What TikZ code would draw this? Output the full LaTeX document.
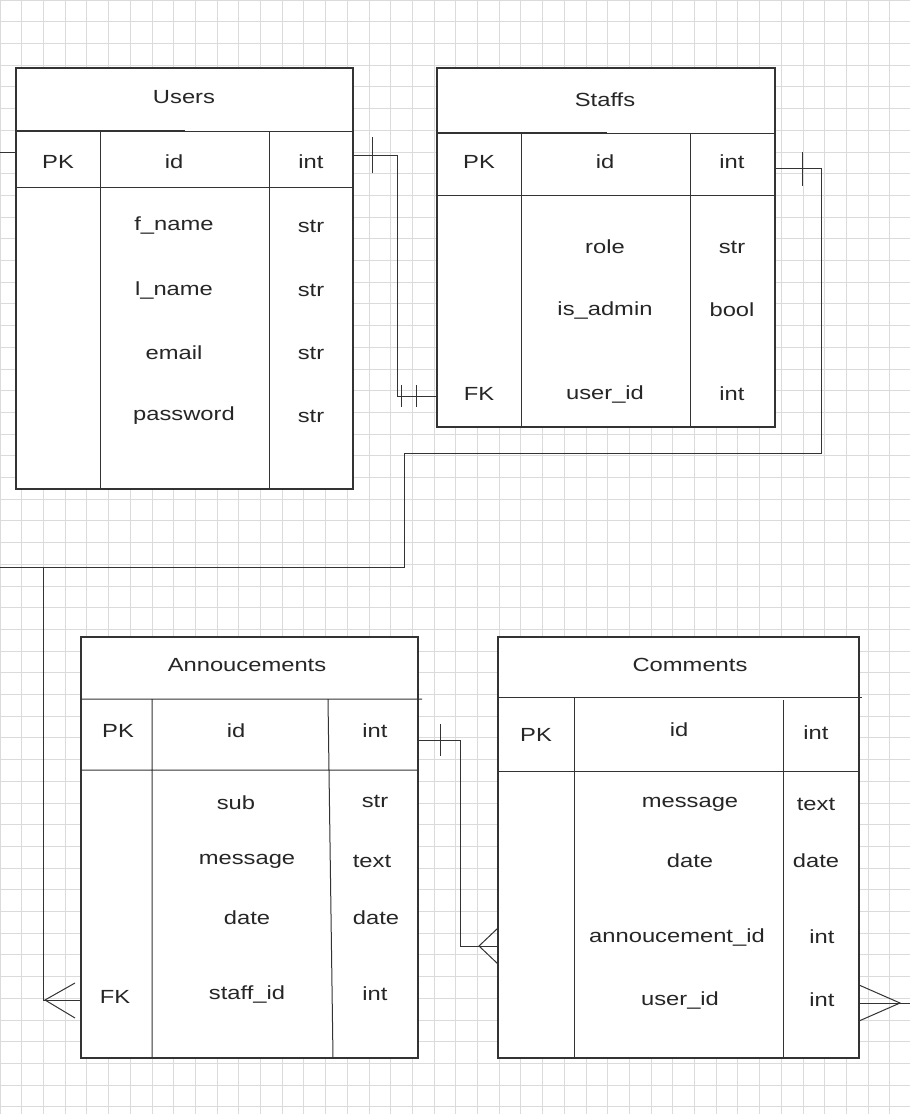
\documentclass[tikz,border=0pt]{standalone}
\usepackage{fontspec}
\setmainfont{Liberation Sans}
\begin{document}
\begin{tikzpicture}[x=1pt,y=-1pt,
  box/.style={draw=black!80,line width=1.3pt},
  sep/.style={draw=black!80,line width=1pt},
  t/.style={font=\fontsize{19}{21}\selectfont,text=black!85,inner sep=0pt,xscale=1.25,transform shape},
  con/.style={draw=black!80,line width=1pt}]
\useasboundingbox (0,0) rectangle (910,1114);
\fill[white] (0,0) rectangle (910,1114);
\foreach \i in {0,...,42} {\draw[black!14,line width=0.8pt] (\i*21.7,0) -- (\i*21.7,1114);}
\foreach \i in {0,...,52} {\draw[black!14,line width=0.8pt] (0,\i*21.7) -- (910,\i*21.7);}
% Users
\draw[box,fill=white] (16,68) rectangle (353,489);
\draw[sep] (16,131) -- (353,131) (16,187) -- (353,187) (100,131) -- (100,489) (269,131) -- (269,489);
\draw[line width=2pt,black!80] (16,131) -- (185,131);
\node[t] (ut) at (184,97) {Users};
\node[t] (u1) at (58,162) {PK}; \node[t] (u2) at (174,162) {id}; \node[t] (u3) at (311,162) {int};
\node[t] (u4) at (174,226) {f\_name}; \node[t] (u5) at (311,226) {str};
\node[t] (u6) at (174,290) {l\_name}; \node[t] (u7) at (311,290) {str};
\node[t] (u8) at (174,353) {email}; \node[t] (u9) at (311,353) {str};
\node[t] (u10) at (184,416) {password}; \node[t] (u11) at (311,416) {str};
% Staffs
\draw[box,fill=white] (437,68) rectangle (775,427);
\draw[sep] (437,133) -- (775,133) (437,195) -- (775,195) (521,133) -- (521,427) (690,133) -- (690,427);
\draw[line width=2pt,black!80] (437,133) -- (607,133);
\node[t] (st) at (605,100) {Staffs};
\node[t] (s1) at (479,162) {PK}; \node[t] (s2) at (605,162) {id}; \node[t] (s3) at (732,162) {int};
\node[t] (s4) at (605,247) {role}; \node[t] (s5) at (732,247) {str};
\node[t] (s6) at (605,310) {is\_admin}; \node[t] (s7) at (732,310) {bool};
\node[t] (s8) at (479,394) {FK}; \node[t] (s9) at (605,394) {user\_id}; \node[t] (s10) at (732,394) {int};
% Annoucements
\draw[box,fill=white] (81,637) rectangle (418,1058);
\draw[sep] (81,699) -- (422,699) (81,770) -- (418,770) (152,699) -- (152,1058) (328,699) -- (333,1058);
\node[t] (at) at (247,665) {Annoucements};
\node[t] (a1) at (118,731) {PK}; \node[t] (a2) at (236,731) {id}; \node[t] (a3) at (375,731) {int};
\node[t] (a4) at (236,803) {sub}; \node[t] (a5) at (375,801) {str};
\node[t] (a6) at (247,861) {message}; \node[t] (a7) at (372,861) {text};
\node[t] (a8) at (247,918) {date}; \node[t] (a9) at (376,918) {date};
\node[t] (a10) at (115,997) {FK}; \node[t] (a11) at (247,994) {staff\_id}; \node[t] (a12) at (375,994) {int};
% Comments
\draw[box,fill=white] (498,637) rectangle (859,1058);
\draw[sep] (498,697) -- (862,697) (498,771) -- (859,771) (574,697) -- (574,1058) (783,700) -- (783,1058);
\node[t] (ct) at (690,665) {Comments};
\node[t] (c1) at (536,735) {PK}; \node[t] (c2) at (679,730) {id}; \node[t] (c3) at (816,733) {int};
\node[t] (c4) at (690,804) {message}; \node[t] (c5) at (816,804) {text};
\node[t] (c6) at (690,861) {date}; \node[t] (c7) at (816,861) {date};
\node[t] (c8) at (677,937) {annoucement\_id}; \node[t] (c9) at (822,937) {int};
\node[t] (c10) at (680,1000) {user\_id}; \node[t] (c11) at (822,1000) {int};
% connectors
\coordinate (ul) at (0,152); \coordinate (ule) at (16,152);
\draw[con] (ul) -- (ule);
\coordinate (uid) at (353,155); \coordinate (sfk) at (437,396);
\draw[con] (uid) -- (397,155) -- (397,396) -- (sfk);
\draw[con] (372,137) -- (372,173) (401,385) -- (401,407) (416,385) -- (416,407);
\coordinate (sid) at (775,168); \coordinate (afk) at (81,1000); \coordinate (lf) at (0,567);
\draw[con] (sid) -- (821,168) -- (821,453) -- (404,453) -- (404,567) -- (lf);
\draw[con] (43,567) -- (43,1000) -- (afk);
\draw[con] (802,152) -- (802,186);
\draw[con] (75,983) -- (45,1000) -- (75,1018);
\coordinate (aid) at (418,740); \coordinate (cfk) at (498,946);
\draw[con] (aid) -- (460,740) -- (460,946) -- (cfk);
\draw[con] (440,724) -- (440,756);
\draw[con] (498,928) -- (479,946) -- (498,964);
\coordinate (cu) at (859,1003); \coordinate (ce) at (910,1003);
\draw[con] (cu) -- (ce);
\draw[con] (859,985) -- (900,1003) -- (859,1021);
\end{tikzpicture}
\end{document}
